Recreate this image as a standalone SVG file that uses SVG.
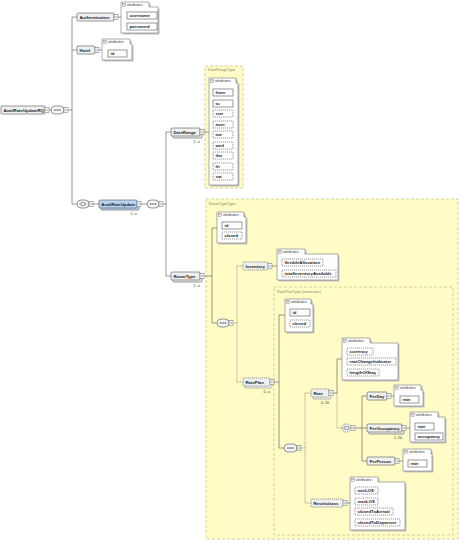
<svg xmlns="http://www.w3.org/2000/svg" width="460" height="542" viewBox="0 0 460 542">
<style>
text{font-family:"Liberation Sans",Arial,sans-serif}
.tb{fill:#fffcc6;stroke:#c8c890;stroke-width:.8;stroke-dasharray:3 2}
.tl{font-size:3.8px;fill:#8a8a60}
.el{fill:#f0f0f0;stroke:#555;stroke-width:.6}
.sel{fill:#b8d4f2;stroke:#555;stroke-width:.6}
.opt{stroke-dasharray:1.2 .8}
.et{font-size:4.3px;font-weight:bold;fill:#222}
.ab{fill:#fff;stroke:#777;stroke-width:.6}
.abs{fill:#c4c4c4}
.at{fill:#fff;stroke:#555;stroke-width:.6}
.lab{font-size:3.8px;fill:#333}
.m{font-size:3.6px;fill:#333}
.ln{stroke:#555;stroke-width:.6;fill:none}
.dl{stroke:#555;stroke-width:.6;fill:none;stroke-dasharray:.8 .8}
.cp{fill:#f4f4f4;stroke:#555;stroke-width:.6}
</style>
<defs>
<g id="mi"><rect x="0" y="0" width="4" height="5" fill="#fff" stroke="#666" stroke-width=".5"/><line x1=".8" y1="2.5" x2="3.2" y2="2.5" stroke="#333" stroke-width=".5"/></g>
<g id="hm"><rect x="0" y="0" width="3" height="3" fill="#fff" stroke="#666" stroke-width=".4"/><line x1=".6" y1="1.5" x2="2.4" y2="1.5" stroke="#333" stroke-width=".4"/></g>
<g id="seq"><line x1="-3.5" y1="0" x2="3.5" y2="0" stroke="#333" stroke-width=".4"/><circle cx="-2.5" cy="0" r=".6" fill="#333"/><circle cx="0" cy="0" r=".6" fill="#333"/><circle cx="2.5" cy="0" r=".6" fill="#333"/></g>
<g id="cho"><path d="M-4,0H-1.8M1.8,0H4M-1.8,-1.6H1.8V1.6H-1.8Z" stroke="#333" stroke-width=".4" fill="none"/></g>
</defs>

<g id="types">
<rect class="tb" x="205" y="66" width="38" height="122"/>
<text class="tl" x="208" y="71">DateRangeType</text>
<rect class="tb" x="206" y="199" width="252" height="340"/>
<text class="tl" x="209" y="205">RoomTypeType</text>
<rect class="tb" x="274" y="287" width="179" height="248"/>
<text class="tl" x="277" y="293">RatePlanType (extension)</text>
</g>

<g id="connectors">
<path class="ln" d="M49,110H51M68,110H72M72,17V204M72,17H77M72,50H77M72,204H77M118,17H121M99,50H102M93,204H99M141,204H147M163,204H166M166,132V276M166,132H171M166,276H171M204,132H209M204,276H212M212,228V323M212,228H217M212,323H217"/>
<path class="dl" d="M233,323H237M237,266V382M237,266H243M237,382H243"/>
<path class="ln" d="M272,266H277M274,382H279M279,315V448M279,315H285M279,448H284"/>
<path class="dl" d="M301,448H305M305,393V503M305,393H311M305,503H311"/>
<path class="ln" d="M333,393H337M337,359V393M337,359H342"/>
<path class="dl" d="M337,393V428M337,428H342"/>
<path class="ln" d="M355,428H362M362,396V461M362,396H367M362,428H367M362,461H367M391,396H394M406,428H410M399,461H403M347,503H350"/>
</g>

<g id="n-root">
<rect class="el" x="1" y="106" width="44" height="8" rx="1"/>
<text class="et" x="3.5" y="111.6">AvailRateUpdateRQ</text>
<use href="#mi" x="45" y="107.5"/>
</g>
<g id="n-seq1">
<rect class="cp" x="51" y="106" width="13" height="8" rx="4"/>
<use href="#seq" x="57.5" y="110"/>
<use href="#mi" x="64" y="107.5"/>
</g>

<g id="n-auth">
<rect class="el" x="77" y="13" width="37" height="8" rx="1"/>
<text class="et" x="79.5" y="18.6">Authentication</text>
<use href="#mi" x="114" y="14.5"/>
</g>
<g id="a-auth">
<path class="abs" d="M122.5,3.5h28v5h9v26h-37z"/>
<path class="ab" d="M121,2h28v5h9v26h-37z"/>
<use href="#hm" x="122.5" y="3.2"/><text class="lab" x="127" y="6">attributes</text>
<rect class="at" x="127" y="12" width="30" height="7"/><text class="et" x="129.5" y="17.2">username</text>
<rect class="at" x="127" y="23" width="30" height="7"/><text class="et" x="129.5" y="28.2">password</text>
</g>

<g id="n-hotel">
<rect class="el" x="77" y="46" width="18" height="8" rx="1"/>
<text class="et" x="79.5" y="51.6">Hotel</text>
<use href="#mi" x="95" y="47.5"/>
</g>
<g id="a-hotel">
<path class="abs" d="M103.5,40.5h28v5h2v16h-30z"/>
<path class="ab" d="M102,39h28v5h2v16h-30z"/>
<use href="#hm" x="103.5" y="40.2"/><text class="lab" x="108" y="43">attributes</text>
<rect class="at" x="108" y="50" width="19" height="7"/><text class="et" x="110.5" y="55.2">id</text>
</g>

<g id="n-choice1">
<rect class="cp" x="77" y="200" width="12" height="8" rx="4"/>
<use href="#cho" x="83" y="204"/>
<use href="#mi" x="89" y="201.5"/>
</g>
<g id="n-aru">
<rect class="sel" x="101" y="202" width="38" height="8" rx="1"/>
<rect class="sel" x="99" y="200" width="38" height="8" rx="1"/>
<text class="et" x="101.3" y="205.6">AvailRateUpdate</text>
<use href="#mi" x="137" y="201.5"/>
<text class="m" x="137" y="214.5" text-anchor="end">1..∞</text>
</g>
<g id="n-seq2">
<rect class="cp" x="147" y="200" width="12" height="8" rx="4"/>
<use href="#seq" x="153" y="204"/>
<use href="#mi" x="159" y="201.5"/>
</g>

<g id="n-daterange">
<rect class="el" x="173" y="130" width="29" height="8" rx="1"/>
<rect class="el" x="171" y="128" width="29" height="8" rx="1"/>
<text class="et" x="173.5" y="133.6">DateRange</text>
<use href="#mi" x="200" y="129.5"/>
<text class="m" x="200" y="142.5" text-anchor="end">1..∞</text>
</g>
<g id="a-daterange">
<path class="abs" d="M210.5,79.5h27v5h2v102h-29z"/>
<path class="ab" d="M209,78h27v5h2v102h-29z"/>
<use href="#hm" x="210.5" y="79.2"/><text class="lab" x="215" y="82">attributes</text>
<rect class="at" x="213" y="89" width="20" height="7"/><text class="et" x="215.5" y="94.2">from</text>
<rect class="at" x="213" y="100" width="20" height="7"/><text class="et" x="215.5" y="105.2">to</text>
<rect class="at opt" x="213" y="110" width="20" height="7"/><text class="et" x="215.5" y="115.2">sun</text>
<rect class="at opt" x="213" y="121" width="20" height="7"/><text class="et" x="215.5" y="126.2">mon</text>
<rect class="at opt" x="213" y="131" width="20" height="7"/><text class="et" x="215.5" y="136.2">tue</text>
<rect class="at opt" x="213" y="142" width="20" height="7"/><text class="et" x="215.5" y="147.2">wed</text>
<rect class="at opt" x="213" y="152" width="20" height="7"/><text class="et" x="215.5" y="157.2">thu</text>
<rect class="at opt" x="213" y="163" width="20" height="7"/><text class="et" x="215.5" y="168.2">fri</text>
<rect class="at opt" x="213" y="173" width="20" height="7"/><text class="et" x="215.5" y="178.2">sat</text>
</g>

<g id="n-roomtype">
<rect class="el" x="173" y="274" width="29" height="8" rx="1"/>
<rect class="el" x="171" y="272" width="29" height="8" rx="1"/>
<text class="et" x="173.5" y="277.6">RoomType</text>
<use href="#mi" x="200" y="273.5"/>
<text class="m" x="200" y="286.5" text-anchor="end">1..∞</text>
</g>
<g id="a-roomtype">
<path class="abs" d="M218.5,213.5h27v5h2v26h-29z"/>
<path class="ab" d="M217,212h27v5h2v26h-29z"/>
<use href="#hm" x="218.5" y="213.2"/><text class="lab" x="223" y="216">attributes</text>
<rect class="at" x="222" y="222" width="20" height="7"/><text class="et" x="224.5" y="227.2">id</text>
<rect class="at opt" x="222" y="232" width="20" height="7"/><text class="et" x="224.5" y="237.2">closed</text>
</g>
<g id="n-seq3">
<rect class="cp" x="217" y="319" width="12" height="8" rx="4"/>
<use href="#seq" x="223" y="323"/>
<use href="#mi" x="229" y="320.5"/>
</g>

<g id="n-inventory">
<rect class="el opt" x="243" y="262" width="25" height="8" rx="1"/>
<text class="et" x="245.5" y="267.6">Inventory</text>
<use href="#mi" x="268" y="263.5"/>
</g>
<g id="a-inventory">
<path class="abs" d="M278.5,250.5h28v5h33v26h-61z"/>
<path class="ab" d="M277,249h28v5h33v26h-61z"/>
<use href="#hm" x="278.5" y="250.2"/><text class="lab" x="283" y="253">attributes</text>
<rect class="at opt" x="282" y="259" width="41" height="7"/><text class="et" x="284.5" y="264.2">flexibleAllocation</text>
<rect class="at opt" x="282" y="270" width="54" height="7"/><text class="et" x="284.5" y="275.2">totalInventoryAvailable</text>
</g>

<g id="n-rateplan">
<rect class="el opt" x="245" y="380" width="27" height="8" rx="1"/>
<rect class="el opt" x="243" y="378" width="27" height="8" rx="1"/>
<text class="et" x="245.5" y="383.6">RatePlan</text>
<use href="#mi" x="270" y="379.5"/>
<text class="m" x="270" y="392.5" text-anchor="end">0..∞</text>
</g>
<g id="a-rateplan">
<path class="abs" d="M286.5,300.5h26v5h2v28h-28z"/>
<path class="ab" d="M285,299h26v5h2v28h-28z"/>
<use href="#hm" x="286.5" y="300.2"/><text class="lab" x="291" y="303">attributes</text>
<rect class="at" x="290" y="309" width="20" height="7"/><text class="et" x="292.5" y="314.2">id</text>
<rect class="at opt" x="290" y="320" width="20" height="7"/><text class="et" x="292.5" y="325.2">closed</text>
</g>
<g id="n-seq4">
<rect class="cp" x="284" y="444" width="13" height="8" rx="4"/>
<use href="#seq" x="290.5" y="448"/>
<use href="#mi" x="297" y="445.5"/>
</g>

<g id="n-rate">
<rect class="el opt" x="313" y="391" width="18" height="8" rx="1"/>
<rect class="el opt" x="311" y="389" width="18" height="8" rx="1"/>
<text class="et" x="313.5" y="394.6">Rate</text>
<use href="#mi" x="329" y="390.5"/>
<text class="m" x="329" y="403.5" text-anchor="end">0..20</text>
</g>
<g id="a-rate">
<path class="abs" d="M343.5,339.5h28v5h28v37h-56z"/>
<path class="ab" d="M342,338h28v5h28v37h-56z"/>
<use href="#hm" x="343.5" y="339.2"/><text class="lab" x="348" y="342">attributes</text>
<rect class="at opt" x="347" y="348" width="26" height="7"/><text class="et" x="349.5" y="353.2">currency</text>
<rect class="at opt" x="347" y="358" width="49" height="7"/><text class="et" x="349.5" y="363.2">rateChangeIndicator</text>
<rect class="at opt" x="347" y="369" width="32" height="7"/><text class="et" x="349.5" y="374.2">lengthOfStay</text>
</g>
<g id="n-choice2">
<rect class="cp opt" x="342" y="424" width="9" height="8" rx="4"/>
<use href="#cho" x="346.5" y="428"/>
<use href="#mi" x="351" y="425.5"/>
</g>

<g id="n-perday">
<rect class="el" x="367" y="392" width="20" height="8" rx="1"/>
<text class="et" x="369.5" y="397.6">PerDay</text>
<use href="#mi" x="387" y="393.5"/>
</g>
<g id="a-perday">
<path class="abs" d="M395.5,386.5h27v5h2v16h-29z"/>
<path class="ab" d="M394,385h27v5h2v16h-29z"/>
<use href="#hm" x="395.5" y="386.2"/><text class="lab" x="400" y="389">attributes</text>
<rect class="at" x="400" y="396" width="19" height="7"/><text class="et" x="402.5" y="401.2">rate</text>
</g>

<g id="n-peroccupancy">
<rect class="el" x="369" y="426" width="35" height="8" rx="1"/>
<rect class="el" x="367" y="424" width="35" height="8" rx="1"/>
<text class="et" x="369.5" y="429.6">PerOccupancy</text>
<use href="#mi" x="402" y="425.5"/>
<text class="m" x="402" y="438.5" text-anchor="end">1..20</text>
</g>
<g id="a-peroccupancy">
<path class="abs" d="M411.5,413.5h28v5h7v25h-35z"/>
<path class="ab" d="M410,412h28v5h7v25h-35z"/>
<use href="#hm" x="411.5" y="413.2"/><text class="lab" x="416" y="416">attributes</text>
<rect class="at" x="415" y="423" width="19" height="7"/><text class="et" x="417.5" y="428.2">rate</text>
<rect class="at" x="415" y="433" width="28" height="7"/><text class="et" x="417.5" y="438.2">occupancy</text>
</g>

<g id="n-perperson">
<rect class="el" x="367" y="457" width="28" height="8" rx="1"/>
<text class="et" x="369.5" y="462.6">PerPerson</text>
<use href="#mi" x="395" y="458.5"/>
</g>
<g id="a-perperson">
<path class="abs" d="M404.5,450.5h28v5h1v17h-29z"/>
<path class="ab" d="M403,449h28v5h1v17h-29z"/>
<use href="#hm" x="404.5" y="450.2"/><text class="lab" x="409" y="453">attributes</text>
<rect class="at" x="408" y="460" width="19" height="7"/><text class="et" x="410.5" y="465.2">rate</text>
</g>

<g id="n-restrictions">
<rect class="el opt" x="311" y="499" width="32" height="8" rx="1"/>
<text class="et" x="313.5" y="504.6">Restrictions</text>
<use href="#mi" x="343" y="500.5"/>
</g>
<g id="a-restrictions">
<path class="abs" d="M351.5,478.5h28v5h27v48h-55z"/>
<path class="ab" d="M350,477h28v5h27v48h-55z"/>
<use href="#hm" x="351.5" y="478.2"/><text class="lab" x="356" y="481">attributes</text>
<rect class="at opt" x="355" y="487" width="23" height="7"/><text class="et" x="357.5" y="492.2">minLOS</text>
<rect class="at opt" x="355" y="498" width="23" height="7"/><text class="et" x="357.5" y="503.2">maxLOS</text>
<rect class="at opt" x="355" y="508" width="38" height="7"/><text class="et" x="357.5" y="513.2">closedToArrival</text>
<rect class="at opt" x="355" y="519" width="45" height="7"/><text class="et" x="357.5" y="524.2">closedToDeparture</text>
</g>
</svg>
